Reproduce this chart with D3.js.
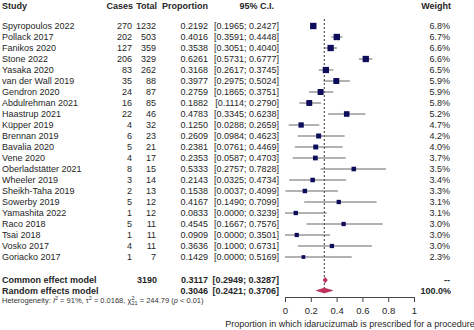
<!DOCTYPE html>
<html>
<head>
<meta charset="utf-8">
<script src="https://cdn.jsdelivr.net/npm/d3@7"></script>
<style>
  body { margin: 0; background: #fff; }
  svg { font-family: "Liberation Sans", Arial, sans-serif; }
</style>
</head>
<body>
<svg id="forest" width="474" height="330"></svg>
<script>
const studies = ['Spyropoulos 2022', 'Pollack 2017', 'Fanikos 2020', 'Stone 2022', 'Yasaka 2020',
  'van der Wall 2019', 'Gendron 2020', 'Abdulrehman 2021', 'Haastrup 2021', 'Küpper 2019',
  'Brennan 2019', 'Bavalia 2020', 'Vene 2020', 'Oberladstätter 2021', 'Wheeler 2019',
  'Sheikh-Taha 2019', 'Sowerby 2019', 'Yamashita 2022', 'Raco 2018', 'Tsai 2018',
  'Vosko 2017', 'Goriacko 2017'];
const cases = [270, 202, 127, 206, 83, 35, 24, 16, 22, 4, 6, 5, 4, 8, 3, 2, 5, 1, 5, 1, 4, 1];
const totals = [1232, 503, 359, 329, 262, 88, 87, 85, 46, 32, 23, 21, 17, 15, 14, 13, 12, 12, 11, 11, 11, 7];
const props = [0.2192, 0.4016, 0.3538, 0.6261, 0.3168, 0.3977, 0.2759, 0.1882, 0.4783, 0.1250,
  0.2609, 0.2381, 0.2353, 0.5333, 0.2143, 0.1538, 0.4167, 0.0833, 0.4545, 0.0909, 0.3636, 0.1429];
const lower = [0.1965, 0.3591, 0.3051, 0.5731, 0.2617, 0.2975, 0.1865, 0.1114, 0.3345, 0.0288,
  0.0984, 0.0761, 0.0587, 0.2757, 0.0325, 0.0037, 0.1490, 0.0000, 0.1667, 0.0000, 0.1000, 0.0000];
const upper = [0.2427, 0.4448, 0.4040, 0.6777, 0.3745, 0.5024, 0.3751, 0.2790, 0.6238, 0.2659,
  0.4623, 0.4469, 0.4703, 0.7828, 0.4734, 0.4099, 0.7099, 0.3239, 0.7576, 0.3501, 0.6731, 0.5169];
const weights = [6.8, 6.7, 6.6, 6.6, 6.5, 5.9, 5.9, 5.8, 5.2, 4.7, 4.2, 4.0, 3.7, 3.5, 3.4, 3.3,
  3.1, 3.1, 3.0, 3.0, 3.0, 2.3];

const commonTotal = 3190;
const common = {est: 0.3117, lo: 0.2949, hi: 0.3287};
const random = {est: 0.3046, lo: 0.2421, hi: 0.3706};
const xTicks = [0, 0.2, 0.4, 0.6, 0.8, 1];
const fmt = d3.format('.4f');

const svg = d3.select('#forest');
const fs = 9;

// x in proportion units, y in row units
const x = d3.scaleLinear().domain([0, 1]).range([285, 414]);
const y = d3.scaleLinear().domain([0, 1]).range([26, 37]);
const side = d3.scaleSqrt().domain([0, 6.8]).range([0, 6.4]);

const rows = studies.map((s, i) => ({
  study: s, cases: cases[i], total: totals[i], p: props[i], lo: lower[i], hi: upper[i], w: weights[i], i: i
}));

const text = (g, xx, yy, t, anchor, bold) => g.append('text')
  .attr('x', xx).attr('y', yy).attr('dy', '0.35em')
  .attr('text-anchor', anchor || 'start')
  .attr('font-size', fs)
  .attr('font-weight', bold ? 'bold' : 'normal')
  .attr('fill', '#262626')
  .text(t);

// header
const head = svg.append('g');
const hy = y(-1.85);
text(head, 2, hy, 'Study', 'start', true);
text(head, 133, hy, 'Cases', 'end', true);
text(head, 157, hy, 'Total', 'end', true);
text(head, 208, hy, 'Proportion', 'end', true);
text(head, 274, hy, '95% C.I.', 'end', true);
text(head, 451, hy, 'Weight', 'end', true);

// study rows
const tbl = svg.append('g');
rows.forEach(d => {
  const yy = y(d.i);
  text(tbl, 2, yy, d.study);
  text(tbl, 132, yy, d.cases, 'end');
  text(tbl, 156, yy, d.total, 'end');
  text(tbl, 208, yy, fmt(d.p), 'end');
  text(tbl, 279, yy, '[' + fmt(d.lo) + '; ' + fmt(d.hi) + ']', 'end');
  text(tbl, 450, yy, d.w.toFixed(1) + '%', 'end');
});

// summary rows
const yc = y(23.1), yr = y(24.05);
text(tbl, 2, yc, 'Common effect model', 'start', true);
text(tbl, 157, yc, commonTotal, 'end', true);
text(tbl, 208, yc, fmt(common.est), 'end', true);
text(tbl, 279, yc, '[' + fmt(common.lo) + '; ' + fmt(common.hi) + ']', 'end', true);
text(tbl, 450, yc, '--', 'end', true);
text(tbl, 2, yr, 'Random effects model', 'start', true);
text(tbl, 208, yr, fmt(random.est), 'end', true);
text(tbl, 279, yr, '[' + fmt(random.lo) + '; ' + fmt(random.hi) + ']', 'end', true);
text(tbl, 451, yr, '100.0%', 'end', true);

// heterogeneity
const het = svg.append('text').attr('x', 2).attr('y', y(24.95)).attr('dy', '0.35em')
  .attr('font-size', 7.5).attr('fill', '#333');
het.append('tspan').text('Heterogeneity: ');
het.append('tspan').attr('font-style', 'italic').text('I');
het.append('tspan').attr('dy', '-3').attr('font-size', 5.5).text('2');
het.append('tspan').attr('dy', '3').text(' = 91%, τ');
het.append('tspan').attr('dy', '-3').attr('font-size', 5.5).text('2');
het.append('tspan').attr('dy', '3').text(' = 0.0168, χ');
het.append('tspan').attr('dy', '-3').attr('font-size', 5.5).text('2');
het.append('tspan').attr('dx', '-3').attr('dy', '5').attr('font-size', 5.5).text('21');
het.append('tspan').attr('dy', '-2').text(' = 244.79 (');
het.append('tspan').attr('font-style', 'italic').text('p');
het.append('tspan').text(' < 0.01)');

// plot
const plot = svg.append('g');
plot.append('line')
  .attr('x1', x(random.est)).attr('x2', x(random.est))
  .attr('y1', 19).attr('y2', 294)
  .attr('stroke', '#333').attr('stroke-width', 1).attr('stroke-dasharray', '2,2');

plot.selectAll('line.ci').data(rows).join('line')
  .attr('class', 'ci')
  .attr('x1', d => x(d.lo)).attr('x2', d => x(d.hi))
  .attr('y1', d => y(d.i)).attr('y2', d => y(d.i))
  .attr('stroke', '#666').attr('stroke-width', 1);

plot.selectAll('rect.sq').data(rows).join('rect')
  .attr('class', 'sq')
  .attr('x', d => x(d.p) - side(d.w) / 2)
  .attr('y', d => y(d.i) - side(d.w) / 2)
  .attr('width', d => side(d.w)).attr('height', d => side(d.w))
  .attr('fill', '#0d0d5c');

const diamond = (m, yy, h) => [[x(m.lo), yy], [x(m.est), yy - h], [x(m.hi), yy], [x(m.est), yy + h]];
plot.selectAll('path.dia').data([diamond(common, yc, 2.8), diamond(random, yr, 2.5)]).join('path')
  .attr('class', 'dia')
  .attr('d', d => d3.line()(d) + 'Z')
  .attr('fill', '#c2305c').attr('stroke', '#a02048').attr('stroke-width', 0.5);

// axis
const axis = d3.axisBottom(x).tickValues(xTicks)
  .tickFormat(d => d === 0 || d === 1 ? d3.format('d')(d) : d3.format('.1f')(d))
  .tickSize(5).tickSizeOuter(0);
const ax = svg.append('g').attr('transform', 'translate(0,297)').call(axis);
ax.select('.domain').attr('stroke', '#444');
ax.selectAll('.tick line').attr('stroke', '#444');
ax.selectAll('.tick text').attr('font-size', 9.5).attr('fill', '#262626')
  .attr('font-family', '"Liberation Sans", Arial, sans-serif').attr('dy', '0.9em');

svg.append('text')
  .attr('x', 350).attr('y', 324).attr('dy', '0.35em')
  .attr('text-anchor', 'middle').attr('font-size', 9).attr('fill', '#262626')
  .text('Proportion in which idarucizumab is prescribed for a procedure');
</script>
</body>
</html>
